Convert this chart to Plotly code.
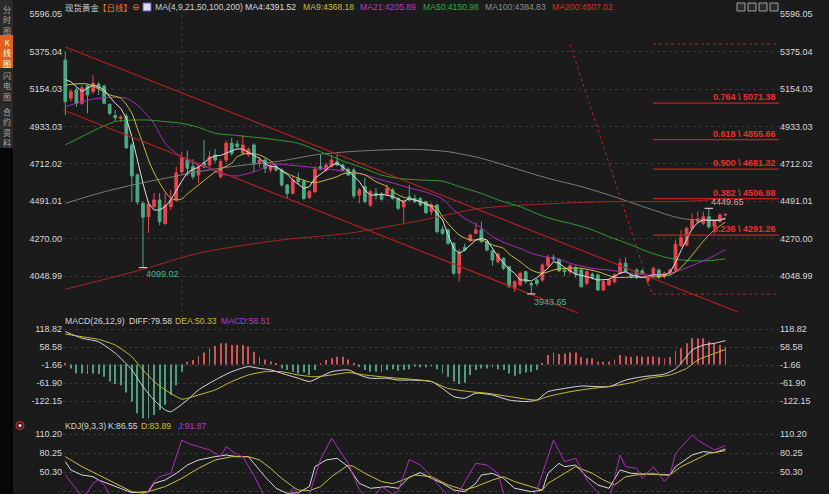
import plotly.graph_objects as go

# 现货黄金 日线 K线数据
candle_open = [5326, 5100, 5149, 5070, 5174, 5139, 5184, 5172, 5064, 4998,
               4981, 4995, 4824, 4647, 4479, 4400, 4460, 4499, 4360, 4460,
               4499, 4666, 4735, 4696, 4647, 4717, 4705, 4765, 4637, 4735,
               4834, 4830, 4775, 4765, 4824, 4716, 4735, 4676, 4696, 4676,
               4587, 4538, 4627, 4611, 4514, 4548, 4696, 4676, 4696, 4725,
               4705, 4680, 4676, 4528, 4578, 4469, 4538, 4533, 4533, 4558,
               4508, 4458, 4518, 4508, 4508, 4489, 4430, 4469, 4326, 4322,
               4243, 4066, 4218, 4258, 4302, 4322, 4253, 4198, 4134, 4154,
               4105, 3977, 3997, 4075, 4006, 4026, 4026, 4110, 4160, 4148,
               4085, 4075, 4100, 4085, 4006, 4060, 4056, 3967, 3997, 4016,
               4066, 4125, 4055, 4085, 4080, 4021, 4056, 4085, 4046, 4070,
               4085, 4228, 4233, 4331, 4371, 4361, 4400, 4341, 4371, 4410]
candle_high = [5375.04, 5150, 5165, 5180, 5185, 5237, 5195, 5180, 5070, 5030,
               5000, 5010, 4835, 4655, 4490, 4485, 4540, 4540, 4540, 4560,
               4696, 4784, 4790, 4740, 4715, 4853, 4790, 4800, 4740, 4850,
               4865, 4850, 4883, 4810, 4835, 4750, 4745, 4720, 4715, 4685,
               4595, 4640, 4660, 4620, 4560, 4696, 4765, 4720, 4765, 4765,
               4715, 4690, 4690, 4570, 4630, 4560, 4570, 4545, 4590, 4570,
               4515, 4500, 4587, 4530, 4515, 4495, 4480, 4475, 4345, 4330,
               4250, 4210, 4240, 4300, 4365, 4370, 4260, 4205, 4190, 4160,
               4110, 4025, 4075, 4080, 4015, 4035, 4125, 4175, 4175, 4155,
               4100, 4120, 4110, 4095, 4085, 4070, 4065, 4025, 4035, 4065,
               4154, 4160, 4065, 4095, 4090, 4055, 4105, 4095, 4075, 4095,
               4263, 4322, 4340, 4420, 4430, 4430, 4449.65, 4380, 4420, 4420]
candle_low = [5001, 5080, 5050, 5060, 5011, 5125, 5120, 5065, 5000, 4960,
              4960, 4800, 4490, 4470, 4099.02, 4304, 4450, 4350, 4350, 4440,
              4490, 4650, 4640, 4620, 4600, 4685, 4695, 4720, 4625, 4720,
              4760, 4800, 4765, 4755, 4666, 4690, 4658, 4660, 4665, 4578,
              4508, 4530, 4590, 4499, 4505, 4540, 4675, 4665, 4690, 4700,
              4670, 4640, 4508, 4479, 4480, 4457, 4500, 4495, 4525, 4500,
              4440, 4361, 4490, 4480, 4460, 4415, 4410, 4300, 4290, 4235,
              4056, 4016, 4195, 4250, 4295, 4245, 4195, 4110, 4125, 4085,
              3980, 3957, 3990, 4005, 3943.65, 3990, 4015, 4100, 4135, 4075,
              4050, 4060, 4040, 3980, 3995, 4030, 3960, 3960, 3990, 4005,
              4060, 4070, 4035, 4030, 4055, 4000, 4045, 4030, 4035, 4060,
              4075, 4220, 4225, 4320, 4360, 4350, 4330, 4300, 4365, 4405]
candle_close = [5080, 5139, 5070, 5162, 5119, 5188, 5159, 5070, 5011, 4985,
                4989, 4808, 4641, 4487, 4397, 4475, 4499, 4371, 4470, 4499,
                4658, 4749, 4686, 4637, 4696, 4694, 4755, 4735, 4725, 4834,
                4775, 4815, 4824, 4798, 4716, 4735, 4686, 4705, 4676, 4587,
                4538, 4617, 4607, 4508, 4548, 4681, 4681, 4705, 4735, 4705,
                4676, 4647, 4523, 4558, 4489, 4548, 4528, 4503, 4567, 4508,
                4450, 4489, 4499, 4489, 4469, 4424, 4469, 4312, 4302, 4243,
                4066, 4193, 4203, 4292, 4322, 4253, 4203, 4144, 4180, 4095,
                3987, 4016, 4066, 4016, 3997, 4006, 4115, 4160, 4150, 4080,
                4075, 4110, 4060, 3987, 4075, 4040, 3967, 4016, 4026, 4056,
                4125, 4075, 4045, 4046, 4065, 4046, 4095, 4041, 4066, 4085,
                4237, 4277, 4331, 4381, 4387, 4400, 4341, 4371, 4410, 4413]

# moving averages, read at sample bars
ma4_idx = [0, 1, 2, 3, 4, 5, 6, 7, 8, 9, 10, 11, 12, 13, 14, 15, 16, 17, 18, 19,
           20, 21, 22, 23, 24, 25, 26, 27, 28, 29, 30, 31, 32, 33, 35, 36, 37, 38,
           40, 41, 42, 43, 44, 45, 47, 48, 49, 50, 52, 53, 54, 55, 56, 57, 59, 61,
           62, 64, 66, 68, 69, 70, 71, 72, 74, 75, 76, 77, 78, 80, 81, 82, 83, 84,
           85, 87, 88, 89, 90, 92, 94, 96, 98, 100, 101, 102, 104, 106, 108, 109,
           110, 111, 112, 113, 114, 115, 117, 118, 119]
ma4_val = [5210, 5198, 5168, 5140, 5160, 5178, 5168, 5149, 5109, 5070, 5040, 4981,
           4873, 4735, 4597, 4479, 4440, 4440, 4459, 4499, 4558, 4610, 4660, 4680,
           4692, 4720, 4745, 4760, 4762, 4775, 4790, 4800, 4800, 4780, 4745, 4716,
           4696, 4696, 4650, 4617, 4590, 4567, 4577, 4627, 4676, 4705, 4716, 4696,
           4640, 4607, 4558, 4528, 4528, 4533, 4520, 4489, 4508, 4489, 4459, 4381,
           4292, 4213, 4184, 4203, 4262, 4272, 4263, 4213, 4164, 4090, 4066, 4026,
           4026, 4020, 4040, 4095, 4134, 4125, 4100, 4060, 4046, 4026, 4030, 4066,
           4075, 4056, 4041, 4056, 4056, 4070, 4130, 4200, 4263, 4330, 4365, 4381,
           4377, 4380, 4391.52]
ma9_idx = [0, 4, 8, 10, 12, 13, 14, 15, 16, 17, 18, 19, 20, 21, 22, 24, 27, 30, 31,
           33, 35, 37, 38, 40, 42, 44, 45, 47, 49, 50, 52, 54, 56, 58, 59, 61, 63,
           65, 67, 68, 71, 73, 75, 77, 79, 80, 82, 84, 86, 88, 90, 93, 96, 99, 101,
           104, 107, 109, 111, 113, 115, 117, 119]
ma9_val = [5178, 5184, 5120, 5100, 5011, 4920, 4830, 4735, 4660, 4600, 4548, 4510,
           4499, 4505, 4534, 4587, 4664, 4717, 4755, 4775, 4765, 4730, 4696, 4656,
           4627, 4605, 4601, 4617, 4637, 4653, 4660, 4647, 4607, 4578, 4548, 4515,
           4500, 4479, 4450, 4400, 4292, 4263, 4263, 4233, 4213, 4180, 4134, 4085,
           4066, 4085, 4095, 4095, 4075, 4042, 4042, 4042, 4046, 4056, 4100, 4174,
           4255, 4322, 4368.18]
ma21_idx = [0, 3, 6, 9, 11, 13, 15, 16, 18, 20, 22, 24, 26, 27, 29, 31, 33, 35, 36,
            38, 42, 46, 50, 53, 57, 59, 62, 65, 68, 70, 72, 75, 77, 80, 82, 84, 87,
            89, 91, 95, 98, 102, 105, 109, 111, 114, 116, 119]
ma21_val = [5050, 5080, 5100, 5106, 5100, 5060, 4991, 4950, 4834, 4775, 4735, 4705,
            4686, 4666, 4646, 4641, 4656, 4676, 4696, 4710, 4700, 4686, 4670, 4656,
            4617, 4600, 4570, 4545, 4505, 4440, 4390, 4335, 4282, 4235, 4213, 4184,
            4160, 4150, 4125, 4095, 4085, 4066, 4056, 4066, 4085, 4125, 4154, 4205.89]
ma50_idx = [0, 3, 6, 9, 12, 15, 18, 21, 24, 27, 30, 33, 36, 39, 42, 46, 50, 53, 57,
            60, 64, 68, 71, 75, 78, 82, 86, 89, 91, 95, 98, 102, 105, 109, 113, 116, 119]
ma50_val = [4824, 4873, 4922, 4962, 4971, 4971, 4962, 4952, 4928, 4893, 4883, 4873,
            4863, 4850, 4834, 4784, 4730, 4696, 4646, 4627, 4617, 4610, 4578, 4538,
            4499, 4459, 4405, 4375, 4361, 4322, 4282, 4233, 4193, 4154, 4140, 4140,
            4150.98]
ma100_idx = [0, 6, 12, 18, 24, 30, 39, 45, 51, 57, 63, 69, 75, 81, 87, 93, 99, 105,
             111, 115, 119]
ma100_val = [4479, 4538, 4587, 4627, 4666, 4696, 4730, 4765, 4784, 4794, 4798, 4784,
             4745, 4686, 4627, 4578, 4518, 4450, 4390, 4381, 4384.83]
ma200_idx = [0, 14, 24, 39, 51, 63, 75, 89, 99, 111, 119]
ma200_val = [3971, 4089, 4184, 4263, 4302, 4371, 4450, 4479, 4489, 4490, 4507.02]

# MACD(26,12,9)
macd_hist = [3, -13, -30, -30, -32, -30, -32, -41, -57, -65, -69, -94, -124, -163,
             -180, -180, -169, -152, -135, -102, -69, -24, 9, 15, 28, 40, 54, 62, 71,
             71, 65, 65, 65, 60, 43, 26, 17, 10, 4, -13, -18, -24, -30, -27, -35, -18,
             4, 15, 21, 26, 26, 17, 2, -8, -18, -24, -24, -24, -18, -16, -21, -18,
             -16, -7, -9.5, -9.5, -7, -16, -30, -41, -57, -65, -61, -35, -18, -13,
             -13, -9.5, -16, -18, -30, -38, -32, -27, -24, -18, 2, 32, 40, 35, 37,
             40, 40, 24, 21, 21, 9.5, 9.5, 9.5, 17, 32, 28, 26, 28, 26, 26, 28, 24,
             21, 24, 46, 54, 71, 88, 88, 88, 76, 71, 65, 58.51]
diff_idx = [0, 3, 6, 9, 12, 14, 16, 18, 19, 20, 22, 24, 27, 30, 33, 35, 37, 40, 42,
            44, 46, 48, 51, 53, 55, 58, 60, 62, 66, 68, 70, 72, 74, 77, 80, 83, 85,
            87, 90, 93, 98, 101, 104, 108, 110, 111, 113, 115, 117, 119]
diff_val = [110, 88, 76, 38, -18, -74, -119, -152, -158, -147, -119, -85, -52, -24,
            -7, -13, -18, -35, -46, -57, -41, -24, -18, -35, -46, -46, -52, -52, -57,
            -80, -107, -113, -96, -102, -119, -124, -119, -91, -80, -72, -74, -52,
            -41, -32, -15, 4, 48, 65, 71, 79.58]
dea_idx = [0, 3, 6, 9, 12, 14, 16, 18, 20, 21, 22, 24, 27, 30, 33, 36, 39, 42, 45,
           48, 51, 54, 57, 60, 64, 66, 69, 73, 76, 80, 85, 87, 91, 95, 98, 102, 105,
           109, 112, 114, 117, 119]
dea_val = [102, 93, 84, 65, 26, -18, -57, -85, -107, -116, -113, -102, -85, -57, -35,
           -24, -24, -35, -41, -35, -27, -35, -41, -46, -52, -57, -80, -91, -96, -107,
           -119, -107, -91, -80, -74, -61, -46, -35, -13, 15, 37, 50.33]

# KDJ(9,3,3)
k_idx = [0, 1, 3, 5, 6, 9, 12, 15, 16, 18, 20, 22, 24, 27, 29, 31, 33, 34, 36, 38,
         40, 42, 44, 45, 47, 49, 51, 53, 55, 58, 60, 62, 64, 66, 68, 70, 72, 74, 75,
         77, 79, 81, 84, 86, 87, 89, 90, 92, 94, 96, 98, 100, 102, 104, 106, 109,
         110, 113, 115, 117, 119]
k_val = [66.6, 53.5, 45.6, 42.9, 37.7, 27.2, 17.7, 19.3, 32.4, 37.7, 48.2, 61.3,
         69.2, 74.5, 77.1, 74.5, 74.5, 63.9, 42.9, 24.6, 16.6, 17.7, 27.2, 58.7, 69.2,
         71.9, 58.7, 32.4, 24.6, 27.2, 24.6, 42, 49.3, 40.3, 32.4, 21.9, 19.3, 32.4,
         45.6, 48.2, 40.3, 24.6, 19.3, 21.9, 48.2, 63.9, 58.7, 61.3, 42.9, 29.8, 24.6,
         53.5, 48.2, 47.2, 47.2, 45.6, 58.7, 77.1, 82.4, 80.8, 86.55]
d_idx = [0, 3, 6, 9, 12, 14, 15, 18, 21, 24, 27, 30, 33, 35, 37, 39, 41, 42, 44, 46,
         48, 51, 52, 54, 57, 59, 61, 63, 66, 69, 72, 74, 77, 79, 81, 84, 86, 87, 90,
         92, 95, 97, 99, 101, 103, 105, 108, 109, 111, 114, 116, 119]
d_val = [74.5, 58.7, 45.6, 32.4, 19.3, 17, 19.3, 27.2, 40.3, 56.1, 69.2, 74.5, 74.5,
         69.2, 56.1, 40.3, 27.2, 21.9, 20.9, 27.2, 42.9, 61.3, 58.7, 48.2, 35.1, 32,
         38, 45.6, 42.9, 29.8, 21.9, 27.2, 37.7, 42.9, 35.1, 27.2, 21.9, 32.4, 48.2,
         58.7, 48.2, 37.7, 29.8, 42.9, 45.6, 47.2, 45.6, 45.6, 58.7, 71.9, 79.7, 83.89]
j_idx = [0, 2, 3, 4, 5, 6, 7, 8, 10, 12, 14, 16, 17, 19, 21, 22, 23, 24, 26, 28, 29,
         31, 32, 34, 36, 38, 40, 41, 43, 44, 46, 48, 51, 53, 55, 57, 59, 60, 62, 64,
         66, 68, 70, 71, 74, 76, 78, 79, 81, 83, 85, 88, 90, 92, 94, 96, 98, 100,
         101, 103, 104, 106, 108, 109, 110, 113, 114, 116, 117, 119]
j_val = [45.6, 22, 12, 18, 32.4, 38, 30, 15, 5, 0, 8, 35.1, 42.9, 48.2, 100.7, 96,
         92.9, 90.2, 85, 74.5, 90.2, 77.1, 74.5, 45, 10, -5, 10, 24.6, 10, 15, 70,
         103.4, 63.9, 22, 5, 27.2, 15, 20, 70, 61.3, 42.9, 22, 5, 19.3, 63.9, 61.3,
         48.2, 16.6, 5, 0, 22, 100.7, 66.6, 71.9, 37.7, 17.7, 5, 77.1, 58.7, 56.1,
         40.3, 58.7, 35.1, 45.6, 79.7, 108.6, 100.7, 90.2, 85, 91.87]

# axis labels
price_ticks = [5596.05, 5375.04, 5154.03, 4933.03, 4712.02, 4491.01, 4270.00, 4048.99]
macd_ticks = [118.82, 58.58, -1.66, -61.90, -122.15]
kdj_ticks = [110.20, 80.25, 50.30, 20.35]

# drawings: channel, fibonacci
channel_upper_x = [0, 121.25]
channel_upper_y = [5402.8, 3836.9]
channel_lower_x = [-0.4, 92.4]
channel_lower_y = [5030.5, 3831.0]
fib_trend_x = [90.97, 105.75]
fib_trend_y = [5420.05, 3942.59]
fib_ratio = [0.764, 0.618, 0.500, 0.382, 0.236]
fib_price = [5071.38, 4855.66, 4681.32, 4506.98, 4291.26]
fib_edges = [5420.05, 3942.59]
fib_x = [105.93, 128.8]

RED = '#e5474f'
GREEN = '#4daa86'
BG = '#1b1b1b'
W, H = 829, 494
ML, MR = 63, 50


def px(x):
    return (x - ML) / (W - ML - MR)


def py(y):
    return 1 - y / H


idx = list(range(len(candle_open)))

fig = go.Figure()

fig.add_trace(go.Candlestick(
    x=idx, open=candle_open, high=candle_high, low=candle_low, close=candle_close,
    increasing=dict(line=dict(color=RED, width=1), fillcolor=RED),
    decreasing=dict(line=dict(color=GREEN, width=1), fillcolor=GREEN),
    whiskerwidth=0, xaxis='x', yaxis='y', hoverinfo='skip'))

ma_lines = [
    (ma100_idx, ma100_val, '#7c7c7c'),
    (ma200_idx, ma200_val, '#a82424'),
    (ma50_idx, ma50_val, '#2f9a2f'),
    (ma21_idx, ma21_val, '#a52cbb'),
    (ma9_idx, ma9_val, '#c9b93a'),
]
for xs, ys, col in ma_lines:
    fig.add_trace(go.Scatter(x=xs, y=ys, mode='lines', line=dict(color=col, width=1, shape='spline', smoothing=0.8),
                             xaxis='x', yaxis='y', hoverinfo='skip'))
fig.add_trace(go.Scatter(x=ma4_idx, y=ma4_val, mode='lines', line=dict(color='#dedede', width=1),
                         xaxis='x', yaxis='y', hoverinfo='skip'))

# channel and fib trend
fig.add_trace(go.Scatter(x=channel_upper_x, y=channel_upper_y, mode='lines',
                         line=dict(color='#b51f1f', width=1.2), xaxis='x', yaxis='y'))
fig.add_trace(go.Scatter(x=channel_lower_x, y=channel_lower_y, mode='lines',
                         line=dict(color='#b51f1f', width=1.2), xaxis='x', yaxis='y'))
fig.add_trace(go.Scatter(x=fib_trend_x, y=fib_trend_y, mode='lines',
                         line=dict(color='#c42020', width=1, dash='dot'), xaxis='x', yaxis='y'))
for p in fib_price:
    fig.add_trace(go.Scatter(x=fib_x, y=[p, p], mode='lines', line=dict(color='#c42020', width=1.2),
                             xaxis='x', yaxis='y'))
for p in fib_edges:
    fig.add_trace(go.Scatter(x=fib_x, y=[p, p], mode='lines', line=dict(color='#c42020', width=1, dash='dot'),
                             xaxis='x', yaxis='y'))

# extreme marks
fig.add_trace(go.Scatter(x=[14, 84, 116], y=[4099.02, 3943.65, 4449.65], mode='markers',
                         marker=dict(symbol='line-ew', size=6, line=dict(color='#e8e8e8', width=1)),
                         xaxis='x', yaxis='y'))

# MACD
fig.add_trace(go.Bar(x=idx, y=macd_hist, width=0.16,
                     marker=dict(color=['#cf555b' if v >= 0 else '#4f9d80' for v in macd_hist], line=dict(width=0)),
                     xaxis='x2', yaxis='y2'))
fig.add_trace(go.Scatter(x=diff_idx, y=diff_val, mode='lines',
                         line=dict(color='#d8d8d8', width=1, shape='spline', smoothing=0.6), xaxis='x2', yaxis='y2'))
fig.add_trace(go.Scatter(x=dea_idx, y=dea_val, mode='lines',
                         line=dict(color='#c9bd3a', width=1, shape='spline', smoothing=0.6), xaxis='x2', yaxis='y2'))

# KDJ
fig.add_trace(go.Scatter(x=k_idx, y=k_val, mode='lines', line=dict(color='#d8d8d8', width=1),
                         xaxis='x3', yaxis='y3'))
fig.add_trace(go.Scatter(x=d_idx, y=d_val, mode='lines', line=dict(color='#c9bd3a', width=1),
                         xaxis='x3', yaxis='y3'))
fig.add_trace(go.Scatter(x=j_idx, y=j_val, mode='lines', line=dict(color='#b02cc0', width=1),
                         xaxis='x3', yaxis='y3'))

# empty traces for the right-hand axes
for xa, ya in [('x', 'y4'), ('x2', 'y5'), ('x3', 'y6')]:
    fig.add_trace(go.Scatter(x=[], y=[], xaxis=xa, yaxis=ya))

ax_font = dict(family='Liberation Sans, Arial', size=9, color='#d8d8d8')
main_rng = [3801.5, 5597.8]
macd_rng = [-185.7, 142.25]
kdj_rng = [15.62, 119.66]


def yax(rng, ticks, domain=None, overlay=None, anchor='x'):
    d = dict(range=rng, tickvals=ticks, ticktext=[f'{t:.2f}' for t in ticks],
             showgrid=overlay is None, gridcolor='#383838', griddash='dot', gridwidth=1,
             zeroline=False, showline=False, ticks='', tickfont=ax_font,
             fixedrange=True, automargin=False, anchor=anchor)
    if overlay:
        d.update(overlaying=overlay, side='right')
    else:
        d.update(domain=domain, side='left')
    return d


fig.update_layout(
    template='none',
    width=W, height=H,
    margin=dict(l=ML, r=MR, t=0, b=0),
    paper_bgcolor=BG, plot_bgcolor=BG,
    showlegend=False,
    xaxis=dict(domain=[0, 1], range=[-0.415, 128.65], visible=False, anchor='y',
               rangeslider=dict(visible=False), fixedrange=True),
    xaxis2=dict(matches='x', anchor='y2', visible=False),
    xaxis3=dict(matches='x', anchor='y3', visible=False),
    yaxis=yax(main_rng, price_ticks, domain=[py(318), py(14)]),
    yaxis2=yax(macd_rng, macd_ticks, domain=[py(420), py(322)], anchor='x2'),
    yaxis3=yax(kdj_rng, kdj_ticks, domain=[0, py(428)], anchor='x3'),
    yaxis4=yax(main_rng, price_ticks, overlay='y'),
    yaxis5=yax(macd_rng, macd_ticks, overlay='y2', anchor='x2'),
    yaxis6=yax(kdj_rng, kdj_ticks, overlay='y3', anchor='x3'),
)

# vertical grid line
fig.add_shape(type='line', xref='x', yref='y domain', x0=21, x1=21, y0=0, y1=1,
              line=dict(color='#383838', width=1, dash='dot'), layer='below')

# fib labels
for r, p in zip(fib_ratio, fib_price):
    fig.add_annotation(x=128.55, y=p, xref='x', yref='y', text=f'<b>{r:.3f} \\ {p:.2f}</b>',
                       xanchor='right', yanchor='bottom', showarrow=False, yshift=-1,
                       font=dict(family='Liberation Sans, Arial', size=9, color='#e8302c'))

# extreme labels
fig.add_annotation(x=14, y=4099.02, xref='x', yref='y', text='4099.02', xanchor='left', yanchor='top',
                   xshift=1, yshift=1, showarrow=False,
                   font=dict(family='Liberation Sans, Arial', size=9, color='#55b38c'))
fig.add_annotation(x=84, y=3943.65, xref='x', yref='y', text='3943.65', xanchor='left', yanchor='top',
                   xshift=1, yshift=-1, showarrow=False,
                   font=dict(family='Liberation Sans, Arial', size=9, color='#55b38c'))
fig.add_annotation(x=116, y=4449.65, xref='x', yref='y', text='4449.65', xanchor='left', yanchor='bottom',
                   xshift=0, yshift=-1, showarrow=False,
                   font=dict(family='Liberation Sans, Arial', size=9, color='#dba2a8'))

CJK = 'Noto Sans CJK SC, Liberation Sans'
LAT = 'Liberation Sans, Arial'


def label(x, y, text, color, size=8.6, family=LAT, anchor='left'):
    fig.add_annotation(x=px(x), y=py(y), xref='paper', yref='paper', text=text, showarrow=False,
                       xanchor=anchor, yanchor='middle', font=dict(family=family, size=size, color=color))


# header of main panel
label(63, 7, '现货黄金', '#d0d0d0', size=8.5, family=CJK)
label(96, 7, '【日线】', '#e8781e', size=8.5, family=CJK)
label(129.5, 7, '⊖', '#e8781e', size=9, family='DejaVu Sans')
label(153, 7, 'MA(4,9,21,50,100,200)', '#cfcfcf')
label(243, 7, 'MA4:4391.52', '#dcdcdc')
label(301, 7, 'MA9:4368.18', '#cbbd36')
label(358, 7, 'MA21:4205.89', '#b53ac9')
label(421, 7, 'MA50:4150.98', '#2fae3e')
label(483, 7, 'MA100:4384.83', '#8e8e8e')
label(550, 7, 'MA200:4507.02', '#d2302c')

# MACD header
label(63, 321, 'MACD(26,12,9)', '#d0d0d0')
label(127, 321, 'DIFF:79.58', '#d8d8d8')
label(172.5, 321, 'DEA:50.33', '#cbbd36')
label(218.5, 321, 'MACD:58.51', '#b53ac9')

# KDJ header
label(63, 425.5, 'KDJ(9,3,3)', '#d0d0d0')
label(105.5, 425.5, 'K:86.55', '#d8d8d8')
label(139, 425.5, 'D:83.89', '#cbbd36')
label(176, 425.5, 'J:91.87', '#b53ac9')

# left side tabs
fig.add_shape(type='rect', xref='paper', yref='paper', x0=px(0), x1=px(13), y0=py(148), y1=py(0),
              fillcolor='#2a2a2a', line=dict(width=0), layer='below')
fig.add_shape(type='rect', xref='paper', yref='paper', x0=px(0), x1=px(13), y0=py(H), y1=py(148),
              fillcolor='#060606', line=dict(width=0), layer='below')
fig.add_shape(type='rect', xref='paper', yref='paper', x0=px(0), x1=px(13), y0=py(68), y1=py(35),
              fillcolor='#e2621c', line=dict(width=0), layer='below')
label(6.5, 20, '分<br>时<br>图', '#a8a8a8', size=8, family=CJK, anchor='center')
label(6.5, 53, 'K<br>线<br>图', '#ffffff', size=8, family=CJK, anchor='center')
label(6.5, 86, '闪<br>电<br>图', '#a8a8a8', size=8, family=CJK, anchor='center')
label(6.5, 127, '合<br>约<br>资<br>料', '#a8a8a8', size=8, family=CJK, anchor='center')

# small icons
fig.add_shape(type='rect', xref='paper', yref='paper', x0=px(143), x1=px(151), y0=py(11), y1=py(3),
              fillcolor='#dcdcf4', line=dict(color='#5a5ad8', width=1))
for x0 in [737, 748, 759, 770]:
    fig.add_shape(type='rect', xref='paper', yref='paper', x0=px(x0), x1=px(x0 + 8), y0=py(11), y1=py(3),
                  fillcolor='#2a2a2a', line=dict(color='#a0a0a0', width=1))
fig.add_shape(type='circle', xref='paper', yref='paper', x0=px(16), x1=px(24), y0=py(429.5), y1=py(421.5),
              fillcolor='#3a1a1a', line=dict(color='#d83030', width=1))
fig.add_shape(type='circle', xref='paper', yref='paper', x0=px(18.5), x1=px(21.5), y0=py(427), y1=py(424),
              fillcolor='#f0f0f0', line=dict(width=0))

fig.write_html("out.html", config={'displayModeBar': False},
               post_script="document.body.style.margin='0';document.body.style.background='#1b1b1b';")
